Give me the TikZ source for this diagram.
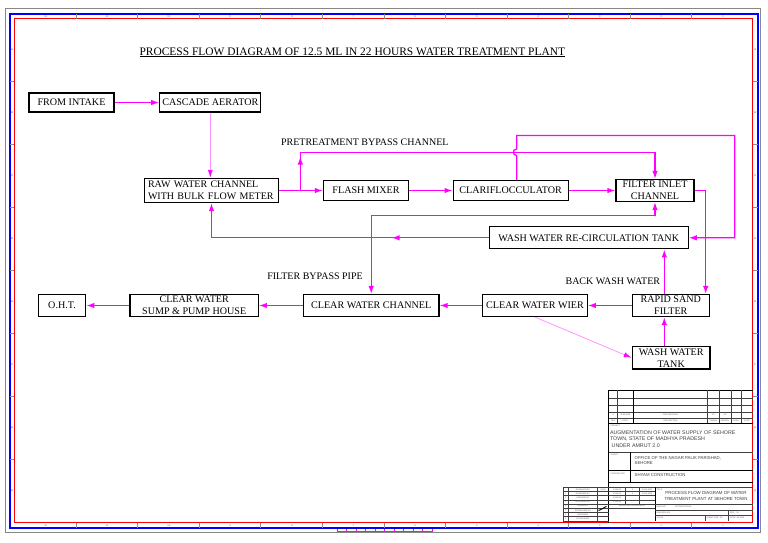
\documentclass[tikz,border=0pt]{standalone}
\usepackage{fontspec}
\setmainfont{Liberation Serif}
\newfontfamily\tbsans{Liberation Sans}
\usetikzlibrary{arrows.meta,decorations.markings,calc}
\definecolor{mag}{RGB}{255,0,255}
\definecolor{lmag}{RGB}{255,150,255}
\definecolor{framegray}{RGB}{135,135,135}
\begin{document}
\begin{tikzpicture}[x=1pt,y=-1pt,
  box/.style={draw=black,line width=1.25pt,rectangle,inner sep=0pt,font=\fontsize{10.1}{12}\selectfont,align=center,text=black},
  lbl/.style={inner sep=0pt,font=\fontsize{10}{12}\selectfont,text=black},
  flow/.style={draw=mag,line width=1.3pt,-{Latex[length=8pt,width=5.5pt]}},
  thinflow/.style={draw=lmag,line width=0.8pt,-{Latex[length=8pt,width=5pt,color=mag]}},
  midarrow/.style={postaction={decorate},decoration={markings,mark=at position #1 with {\arrow{Latex[length=8pt,width=5.5pt,color=mag]}}}},
  tnum/.style={font=\tbsans\fontsize{2.5}{3}\selectfont,text=black!60,inner sep=0pt},
  tline/.style={draw=black!75,line width=0.5pt},
  tthick/.style={draw=black,line width=1pt},
  tt/.style={font=\tbsans\fontsize{2}{2.4}\selectfont,text=black!65,inner sep=0pt},
  tbtxt/.style={font=\tbsans\fontsize{5.3}{6}\selectfont,text=black!75,inner sep=0pt,anchor=west},
  tbsm/.style={font=\tbsans\fontsize{4.3}{5}\selectfont,text=black!75,inner sep=0pt}
]
\useasboundingbox (0,0) rectangle (768,542);
\fill[white] (0,0) rectangle (768,542);

% ---------- sheet frame ----------
\draw[framegray,line width=1pt] (5.3,8) rectangle (760,532);
\draw[blue,line width=2pt] (10.2,14) rectangle (757.7,527.7);
\draw[red,line width=0.9pt] (14.3,18.7) rectangle (752.7,522.7);
\foreach \k in {0,...,10}{
  \draw[black!45,line width=0.5pt] (76+61.57*\k,14) -- (76+61.57*\k,18.7);
  \draw[black!45,line width=0.5pt] (76+61.57*\k,522.7) -- (76+61.57*\k,527.7);
}
\foreach \k/\n in {0/12,1/11,2/10,3/9,4/8,5/7,6/6,7/5,8/4,9/3,10/2,11/1}{
  \node[tnum] at (45.7+61.57*\k,16.4) {\n};
  \node[tnum] at (45.7+61.57*\k,525.2) {\n};
}
\foreach \k in {0,...,6}{
  \draw[black!45,line width=0.5pt] (10.2,81+63*\k) -- (14.3,81+63*\k);
  \draw[black!45,line width=0.5pt] (752.7,81+63*\k) -- (757.7,81+63*\k);
}
\foreach \k/\n in {0/A,1/B,2/C,3/D,4/E,5/F,6/G,7/H}{
  \node[tnum,text=black!80] at (12.3,50+63*\k) {\n};
  \node[tnum,text=black!80] at (755.2,50+63*\k) {\n};
}
% magenta scale bar
\draw[mag,line width=0.6pt] (337,531.6) -- (432,531.6);
\foreach \k in {0,...,10}{
  \draw[mag,line width=0.6pt] (337+9.5*\k,531.6) -- (337+9.5*\k,528.6);
}

% ---------- title ----------
\node[inner sep=0pt,font=\fontsize{11.45}{13}\selectfont,text=black] (title) at (352.3,52.3)
  {\underline{PROCESS FLOW DIAGRAM OF 12.5 ML IN 22 HOURS WATER TREATMENT PLANT}};

% ---------- process boxes ----------
\node[box,minimum width=85pt,minimum height=19pt] (intake) at (71.5,102.5) {FROM INTAKE};
\node[box,minimum width=101pt,minimum height=19pt] (cascade) at (210.3,102.5) {CASCADE AERATOR};
\node[box,minimum width=134pt,minimum height=24pt,text width=127pt,align=left,font=\fontsize{10}{12}\selectfont] (raw) at (211.5,190.5) {RAW WATER CHANNEL\\WITH BULK FLOW METER};
\node[box,minimum width=85pt,minimum height=20pt] (flash) at (366,190.5) {FLASH MIXER};
\node[box,minimum width=115pt,minimum height=20pt] (clarif) at (510.7,190.5) {CLARIFLOCCULATOR};
\node[box,minimum width=78pt,minimum height=22pt] (filterinlet) at (655,190.5) {FILTER INLET\\CHANNEL};
\node[box,minimum width=199pt,minimum height=22pt] (recirc) at (588.7,237.8) {WASH WATER RE-CIRCULATION TANK};
\node[box,minimum width=77pt,minimum height=22pt] (rsf) at (670.8,305.5) {RAPID SAND\\FILTER};
\node[box,minimum width=104.6pt,minimum height=22pt] (wier) at (535,305.5) {CLEAR WATER WIER};
\node[box,minimum width=135.7pt,minimum height=22pt] (cwc) at (371.2,305.5) {CLEAR WATER CHANNEL};
\node[box,minimum width=128.3pt,minimum height=22pt] (sump) at (194.2,305.5) {CLEAR WATER\\SUMP \& PUMP HOUSE};
\node[box,minimum width=47.4pt,minimum height=22pt] (oht) at (62,305.5) {O.H.T.};
\node[box,minimum width=77.7pt,minimum height=22.3pt] (wwt) at (671.2,357.8) {WASH WATER\\TANK};

% ---------- labels ----------
\node[lbl] (lpb) at (364.8,142) {PRETREATMENT BYPASS CHANNEL};
\node[lbl] (lfb) at (315,276) {FILTER BYPASS PIPE};
\node[lbl] (lbw) at (612.8,281.7) {BACK WASH WATER};

% ---------- coordinates ----------
\coordinate (bpA) at (300.3,190.5);
\coordinate (bpB) at (300.3,152.5);
\coordinate (crA) at ($(clarif.north)+(6,0)$);
\coordinate (crB) at (516.7,155.5);
\coordinate (crC) at (516.7,135.5);
\coordinate (crD) at (734.7,135.5);
\coordinate (fiR) at (705.7,190.5);
\coordinate (fbA) at (655,215.5);
\coordinate (fbB) at (371.2,215.5);
\coordinate (rcL) at (211.5,237.8);
\coordinate (bwA) at ($(rsf.north)+(-6.5,0)$);
\coordinate (wwA) at ($(wwt.north)+(-6.9,0)$);

% ---------- connectors ----------
\draw[flow] (intake) -- (cascade);
\draw[thinflow] (cascade.south) -- (cascade.south |- raw.north);
\draw[flow] (raw) -- (flash);
\draw[flow,midarrow=34pt] (bpA) -- (bpB) -| (filterinlet.north);
\draw[flow] (flash) -- (clarif);
\draw[flow] (clarif) -- (filterinlet);
\draw[flow] (crA) -- (crB) .. controls +(-4.5,0) and +(-4.5,0) .. ++(0,-6.5) -- (crC) -- (crD) |- (recirc.east);
\draw[flow] (filterinlet.east) -- (fiR) -- (fiR |- rsf.north);
\draw[draw=mag,line width=1.3pt,{Latex[length=8pt,width=5.5pt]}-{Latex[length=8pt,width=5.5pt]}] (filterinlet.south) -- (fbA) -- (fbB) -- (cwc.north);
\draw[flow,midarrow=97pt] (recirc.west) -- (rcL) -- (raw.south);
\draw[flow] (bwA) -- (bwA |- recirc.south);
\draw[flow] (rsf) -- (wier);
\draw[flow] (wier) -- (cwc);
\draw[flow] (cwc) -- (sump);
\draw[flow] (sump) -- (oht);
\draw[flow] (wwA) -- (wwA |- rsf.south);
\draw[thinflow] (wier.south) -- (wwt.west);

% ---------- title block ----------
\foreach \y in {390.3,398.3,405.3,412.3,418.3}{ \draw[tline] (608.8,\y) -- (752.7,\y); }
\draw[tthick] (608.8,390.3) -- (752.7,390.3);
\draw[tthick] (608.8,423) -- (752.7,423);
\foreach \x in {617.3,707.7,719,731,741.7}{ \draw[tline] (\x,390.3) -- (\x,423); }
\draw[tthick] (633.3,390.3) -- (633.3,423);
\draw[tthick] (608.8,390.3) -- (608.8,522.7);
\node[tt] at (613.3,415.3) {0};
\node[tt] at (625.3,415.3) {20.06.2023};
\node[tt] at (670.5,415.3) {FOR APPROVAL};
\node[tt] at (713.3,415.3) {XX};
\node[tt] at (725,415.3) {XX};
\node[tt] at (613.3,420.6) {REV};
\node[tt] at (625.3,420.6) {DATE};
\node[tt] at (670.5,420.6) {DESCRIPTION};
\node[tt] at (713.3,420.6) {DRAWN};
\node[tt] at (725,420.6) {DESIGN};
\node[tt] at (736.3,420.6) {CHKD.};
\node[tt] at (747.2,420.6) {APPD.};
\node[tt,anchor=west] at (610.5,426.2) {PROJECT};
\node[tbtxt] at (609.8,432.5) {AUGMENTATION OF WATER SUPPLY OF SEHORE};
\node[tbtxt] at (609.8,439) {TOWN, STATE OF MADHYA PRADESH};
\node[tbtxt] at (611.5,445.5) {UNDER AMRUT 2.0};
\draw[tline] (608.8,452) -- (752.7,452);
\draw[tthick] (630,452) -- (630,482.3);
\node[tt,anchor=west] at (610.5,455) {CLIENT};
\node[tbsm,anchor=west] at (634.5,458.5) {OFFICE OF THE NAGAR PALIK PARISHAD,};
\node[tbsm,anchor=west] at (634.5,463.5) {SEHORE};
\draw[tthick] (608.8,470.7) -- (752.7,470.7);
\node[tt,anchor=west] at (610.5,473.5) {CONTRACTOR};
\node[tbsm,anchor=west] at (634.5,475.5) {SHYAM CONSTRUCTION};
\draw[tthick] (608.8,482.3) -- (752.7,482.3);
\draw[tline] (563,487.3) -- (752.7,487.3);
\draw[tline] (563,487.3) -- (563,521);
\foreach \y in {491.7,495.7,500,504,508.3,512.3,516.7,521}{ \draw[tline] (563,\y) -- (608.8,\y); }
\draw[tline] (568.3,487.3) -- (568.3,521);
\draw[tline] (597.3,487.3) -- (597.3,521);
\node[tt] at (582.8,489.5) {DESIGNATION};
\node[tt] at (603,489.5) {SIGN};
\foreach \y/\t [count=\i] in {493.7/DESIGNED BY,497.8/CHECKED BY,502/APPROVED BY,506.1/DRAWN BY,510.3/SUPERVISED BY,514.5/ENGINEER,518.8/AUTHORISED}{
  \node[tt] at (565.6,\y) {\i};
  \node[tt] at (582.8,\y) {\t};
}
\draw[black,line width=0.9pt] (598.5,510.5) -- (601.5,509.2) -- (606.5,506.3);
\foreach \y in {491.7,495.7,500,504,508.3}{ \draw[tline] (608.8,\y) -- (655,\y); }
\draw[tline] (625.7,487.3) -- (625.7,504);
\draw[tline] (639.3,487.3) -- (639.3,504);
\draw[tthick] (655,487.3) -- (655,521);
\foreach \y in {489.5,493.7}{
  \node[tt] at (617.2,\y) {XXXXXX};
  \node[tt] at (632.5,\y) {X};
  \node[tt] at (647.2,\y) {20.06.2023};
}
\node[tt] at (617.2,497.8) {XXXXXX};
\node[tt] at (617.2,502) {XXXXXX};
\node[tt] at (631.9,506.1) {SIGNATURE OF ENGINEER};
\node[tt,anchor=west] at (656.5,489.3) {TITLE};
\node[tbsm,font=\tbsans\fontsize{4.4}{5}\selectfont] at (706,493.3) {PROCESS FLOW DIAGRAM OF WATER};
\node[tbsm,font=\tbsans\fontsize{4.4}{5}\selectfont] at (706,498.5) {TREATMENT PLANT AT SEHORE TOWN};
\draw[tline] (655,504.5) -- (752.7,504.5);
\draw[tline] (655,510) -- (752.7,510);
\draw[tline] (655,514.8) -- (752.7,514.8);
\draw[tline] (728.3,510) -- (728.3,521);
\draw[tline] (705,514.8) -- (705,521);
\node[tt,anchor=west] at (656.5,507.2) {DWG. NO.};
\node[tt,anchor=west] at (675,507.2) {SCT/WTP/PFD/01};
\node[tt,anchor=west] at (656.5,512.4) {DWG REV NO.};
\node[tt,anchor=west] at (730,512.4) {REV. : 00};
\node[tt,anchor=west] at (656.5,517.8) {SCALE};
\node[tt,anchor=west] at (706.5,517.8) {SHEET SIZE : A3};
\node[tt,anchor=west] at (730,517.8) {DATE : 06.2023};
\end{tikzpicture}
\end{document}
